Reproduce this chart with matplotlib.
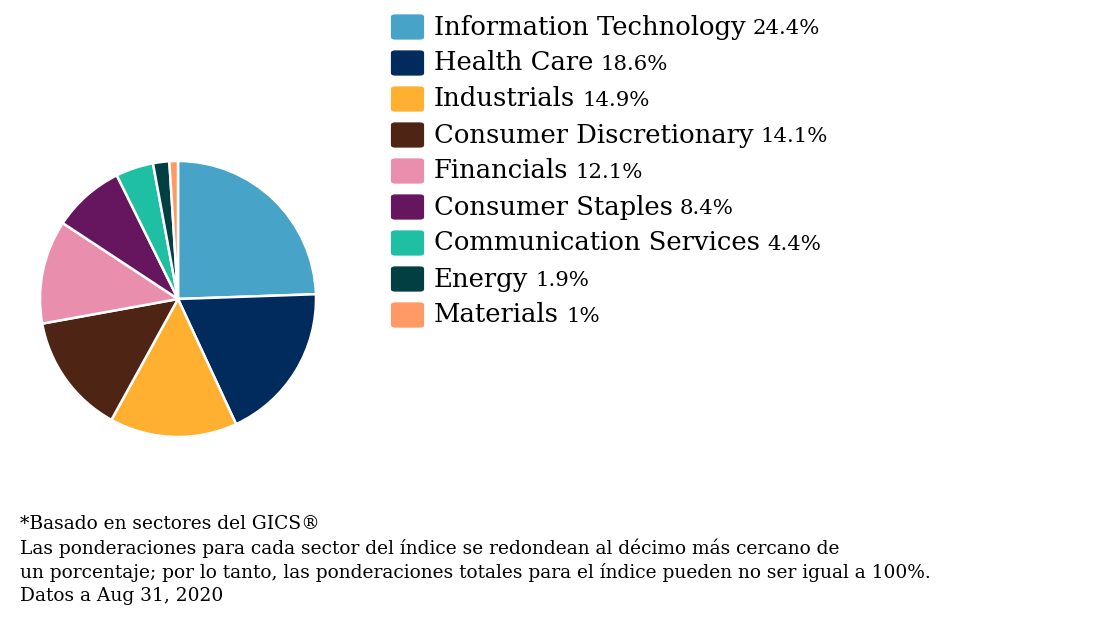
import matplotlib.pyplot as plt
from matplotlib.patches import FancyBboxPatch

# Sector weights (Aug 31, 2020)
sectors = ['Information Technology', 'Health Care', 'Industrials',
           'Consumer Discretionary', 'Financials', 'Consumer Staples',
           'Communication Services', 'Energy', 'Materials']
weights = [24.4, 18.6, 14.9, 14.1, 12.1, 8.4, 4.4, 1.9, 1.0]
pct_labels = ['24.4%', '18.6%', '14.9%', '14.1%', '12.1%', '8.4%', '4.4%', '1.9%', '1%']
colors = ['#48a3c9', '#002b5c', '#ffb030', '#4e2414', '#e98fad',
          '#66165e', '#1fbfa3', '#023f43', '#ff9966']

footnote = ['*Basado en sectores del GICS\u00ae',
            'Las ponderaciones para cada sector del índice se redondean al décimo más cercano de',
            'un porcentaje; por lo tanto, las ponderaciones totales para el índice pueden no ser igual a 100%.',
            'Datos a Aug 31, 2020']

plt.rcParams['font.family'] = ['DejaVu Serif']
W, H = 1096, 630
fig = plt.figure(figsize=(W / 100, H / 100), dpi=100)

# pie
r = 138
cx, cy = 178, 299
ax = fig.add_axes([(cx - r) / W, (H - cy - r) / H, 2 * r / W, 2 * r / H])
ax.pie(weights, colors=colors, startangle=90, counterclock=False,
       wedgeprops=dict(edgecolor='white', linewidth=1.8))
ax.set_xlim(-1, 1)
ax.set_ylim(-1, 1)
ax.set_aspect('equal')
ax.axis('off')

# legend
x0, y0, dy = 392, 27, 36
for i, (name, pct, c) in enumerate(zip(sectors, pct_labels, colors)):
    y = y0 + i * dy
    box = FancyBboxPatch((x0 / W, (H - y - 12) / H), 31 / W, 24 / H,
                         boxstyle='round,pad=0.001,rounding_size=0.004',
                         transform=fig.transFigure, facecolor=c, edgecolor='none')
    fig.patches.append(box)
    t = fig.text(434 / W, (H - y) / H, name, fontsize=18.6, va='center', ha='left')
    fig.canvas.draw()
    bb = t.get_window_extent()
    fig.text((bb.x1 + 7) / W, (H - y - 1) / H, pct, fontsize=15.3, va='center', ha='left')

# footnote
for i, line in enumerate(footnote):
    fig.text(20 / W, (H - 524 - i * 24) / H, line, fontsize=13.4, va='center', ha='left')

plt.savefig('out.png', dpi=100)
